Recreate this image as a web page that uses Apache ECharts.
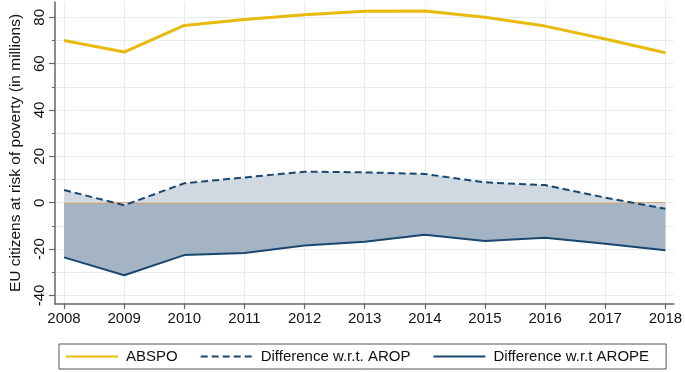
<!DOCTYPE html>
<html>
<head>
<meta charset="utf-8">
<script src="https://cdn.jsdelivr.net/npm/echarts@6/dist/echarts.min.js"></script>
<style>
  html, body { margin: 0; padding: 0; background: #fff; }
  #chart { width: 685px; height: 372px; }
</style>
</head>
<body>
<div id="chart"></div>
<script>
// years on the x axis
var years = [2008, 2009, 2010, 2011, 2012, 2013, 2014, 2015, 2016, 2017, 2018];
// series values, millions
var abspo = [70, 65, 76.5, 79, 81.1, 82.6, 82.7, 80, 76.2, 70.6, 64.7];
var diffArop = [5.5, -1.1, 8.4, 10.9, 13.4, 13.1, 12.4, 8.8, 7.6, 2.2, -2.6];
var diffArope = [-23.6, -31.3, -22.6, -21.7, -18.5, -16.8, -13.8, -16.5, -15.1, -17.7, -20.5];
var zeroLine = [0, 0, 0, 0, 0, 0, 0, 0, 0, 0, 0];
// tick labels
var yLabels = [-40, -20, 0, 20, 40, 60, 80];
var yGrid = [-40, -30, -20, -10, 0, 10, 20, 30, 40, 50, 60, 70, 80];

var font = 'Liberation Sans, Helvetica, Arial, sans-serif';
var navy = '#1a476f';
var gridColor = '#e4edf0';

function pairs(vals) {
	return years.map(function (y, i) { return [y, vals[i]]; });
}

var chart = echarts.init(document.getElementById('chart'), null, { renderer: 'canvas' });

var option = {
	backgroundColor: '#fff',
	animation: false,
	textStyle: { fontFamily: font },
	grid: { left: 50, right: 10, top: 2, bottom: 68 },
	legend: {
		bottom: 3,
		left: 59,
		data: ['ABSPO', 'Difference w.r.t. AROP', 'Difference w.r.t AROPE'],
		itemWidth: 52,
		itemHeight: 14,
		itemGap: 22,
		borderColor: '#555',
		borderWidth: 1,
		borderRadius: 0,
		padding: [5, 17, 5, 6],
		itemStyle: { opacity: 0 },
		textStyle: { fontFamily: font, fontSize: 15, color: '#111', padding: [0, 0, 0, 3] }
	},
	xAxis: {
		type: 'value',
		min: 2007.85,
		max: 2018.14,
		axisLine: { show: true, onZero: false, lineStyle: { color: '#666', width: 1.5 } },
		axisTick: { show: true, length: 5, customValues: years, lineStyle: { color: '#666', width: 1.2 } },
		axisLabel: { customValues: years, margin: 7, fontSize: 15, color: '#111', fontFamily: font, formatter: function (v) { return String(v); } },
		splitLine: { show: true, lineStyle: { color: gridColor, width: 1 } }
	},
	yAxis: [{
		type: 'value',
		min: -43.7,
		max: 86.6,
		name: 'EU citizens at risk of poverty (in millions)',
		nameLocation: 'middle',
		nameGap: 31,
		nameTextStyle: { fontSize: 15.5, color: '#111', fontFamily: font },
		axisLine: { show: true, lineStyle: { color: '#666', width: 1.5 } },
		axisTick: { show: true, length: 6, customValues: yLabels, lineStyle: { color: '#666', width: 1.2 } },
		axisLabel: { customValues: yLabels, rotate: 90, margin: 8, fontSize: 15, color: '#111', fontFamily: font },
		splitLine: { show: false }
	}, {
		type: 'value',
		min: -43.7,
		max: 86.6,
		position: 'left',
		axisLine: { show: false },
		axisTick: { show: true, length: 3, customValues: yGrid, lineStyle: { color: '#666', width: 1 } },
		axisLabel: { show: false },
		splitLine: { show: true, lineStyle: { color: gridColor, width: 1 } }
	}],
	series: [{
		name: 'Difference w.r.t. AROP',
		type: 'line',
		data: pairs(diffArop),
		symbol: 'none',
		z: 3,
		lineStyle: { color: navy, width: 2, type: [7, 4] },
		itemStyle: { color: navy },
		areaStyle: { color: '#d0d9e1', opacity: 1 }
	}, {
		name: 'Difference w.r.t AROPE',
		type: 'line',
		data: pairs(diffArope),
		symbol: 'none',
		z: 2,
		lineStyle: { color: navy, width: 2 },
		itemStyle: { color: navy },
		areaStyle: { color: '#a5b4c5', opacity: 1 }
	}, {
		name: 'zero',
		type: 'line',
		data: pairs(zeroLine),
		symbol: 'none',
		z: 2,
		lineStyle: { color: '#e39a4e', width: 1.5 },
		silent: true
	}, {
		name: 'ABSPO',
		type: 'line',
		data: pairs(abspo),
		symbol: 'none',
		z: 4,
		lineStyle: { color: '#e9b90c', width: 3 },
		itemStyle: { color: '#e9b90c' }
	}]
};
chart.setOption(option);
</script>
</body>
</html>
